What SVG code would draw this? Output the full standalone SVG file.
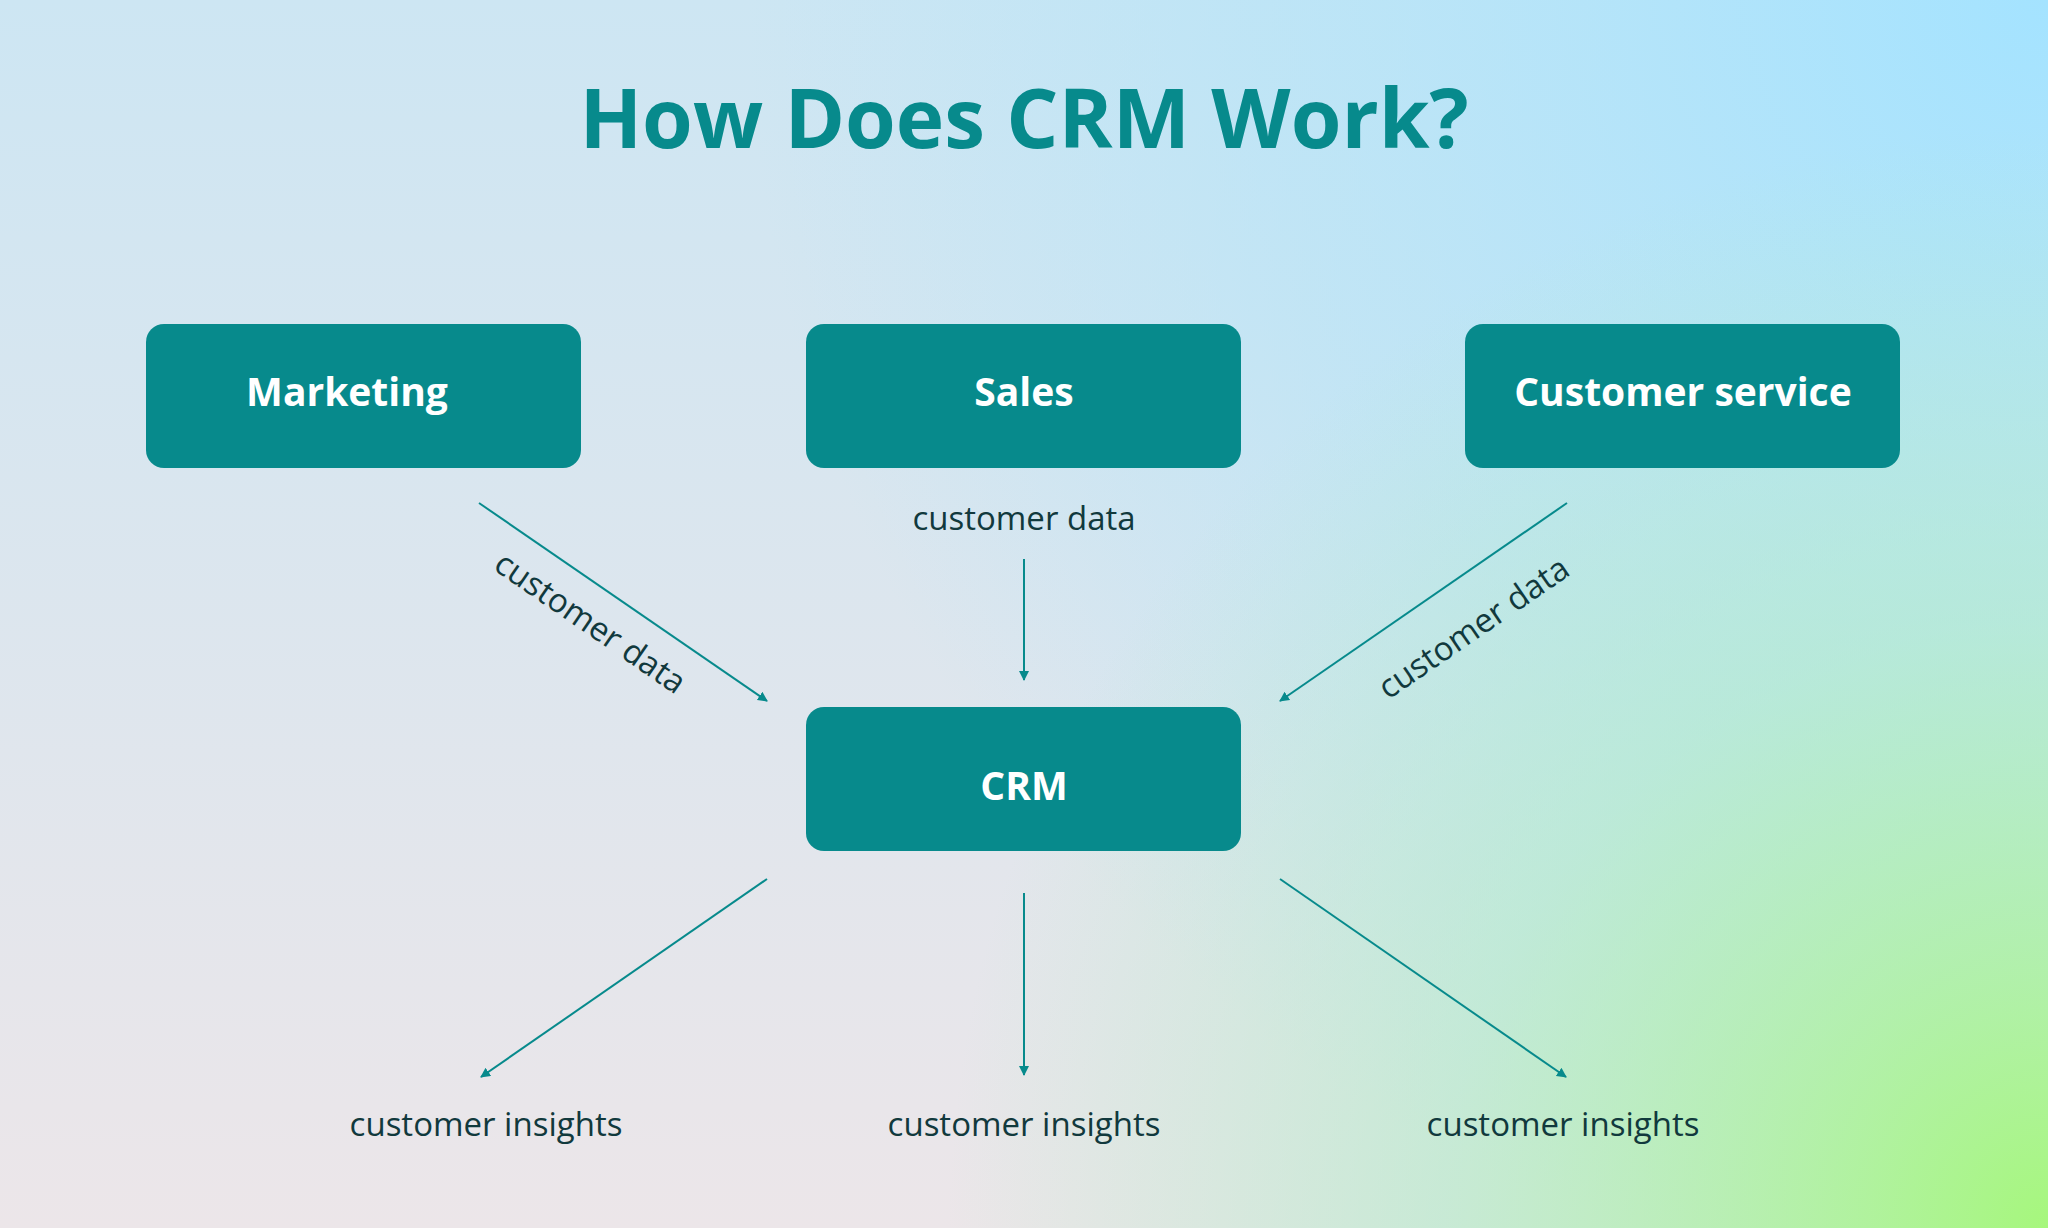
<svg xmlns="http://www.w3.org/2000/svg" width="2048" height="1228" viewBox="0 0 2048 1228">
<defs>
<linearGradient id="bg" x1="0" y1="0" x2="0" y2="1"><stop offset="0" stop-color="#cde6f3"/><stop offset="1" stop-color="#ece6e9"/></linearGradient>
<radialGradient id="blue" cx="2048" cy="0" r="1300" gradientUnits="userSpaceOnUse"><stop offset="0" stop-color="#a4e3ff"/><stop offset="0.6" stop-color="#b4e4f8" stop-opacity="0.6"/><stop offset="1" stop-color="#b4e4f8" stop-opacity="0"/></radialGradient>
<radialGradient id="green" cx="2048" cy="1228" r="1100" gradientUnits="userSpaceOnUse"><stop offset="0" stop-color="#a6f77c"/><stop offset="0.55" stop-color="#b0ecc8" stop-opacity="0.6"/><stop offset="1" stop-color="#b0ecc8" stop-opacity="0"/></radialGradient>
<marker id="ah" viewBox="0 0 10 10" refX="9" refY="5" markerWidth="10" markerHeight="10" markerUnits="userSpaceOnUse" orient="auto"><path d="M0,0 L10,5 L0,10 z" fill="#078a8c"/></marker>
<style>
.box{fill:#078a8c}
.bt{font-family:"Open Sans","Noto Sans",sans-serif;font-weight:bold;font-size:39px;fill:#fff;text-anchor:middle}
.lb{font-family:"Open Sans","Noto Sans",sans-serif;font-size:33px;fill:#11393d;text-anchor:middle}
.cn line{stroke:#078a8c;stroke-width:2;marker-end:url(#ah)}
</style>
</defs>
<rect width="2048" height="1228" fill="url(#bg)"/>
<rect width="2048" height="1228" fill="url(#blue)"/>
<rect width="2048" height="1228" fill="url(#green)"/>
<text x="1024" y="148" font-family="'Open Sans','Noto Sans',sans-serif" font-weight="bold" font-size="82" fill="#078a8c" text-anchor="middle">How Does CRM Work?</text>
<g id="marketing"><rect class="box" x="146" y="324" width="435" height="144" rx="18"/><text class="bt" x="347" y="406">Marketing</text></g>
<g id="sales"><rect class="box" x="806" y="324" width="435" height="144" rx="18"/><text class="bt" x="1024" y="406">Sales</text></g>
<g id="service"><rect class="box" x="1465" y="324" width="435" height="144" rx="18"/><text class="bt" x="1683" y="406">Customer service</text></g>
<g id="crm"><rect class="box" x="806" y="707" width="435" height="144" rx="18"/><text class="bt" x="1024" y="800">CRM</text></g>
<g class="cn" id="connectors">
<line x1="479" y1="503" x2="767" y2="701"/>
<line x1="1024" y1="559" x2="1024" y2="680"/>
<line x1="1567" y1="503" x2="1280" y2="701"/>
<line x1="767" y1="879" x2="481" y2="1077"/>
<line x1="1024" y1="893" x2="1024" y2="1075"/>
<line x1="1280" y1="879" x2="1566" y2="1077"/>
</g>
<g id="labels">
<text class="lb" x="1024" y="530">customer data</text>
<text class="lb" transform="translate(584,632) rotate(34.5)">customer data</text>
<text class="lb" transform="translate(1480,637) rotate(-34.5)">customer data</text>
<text class="lb" x="486" y="1136">customer insights</text>
<text class="lb" x="1024" y="1136">customer insights</text>
<text class="lb" x="1563" y="1136">customer insights</text>
</g>
</svg>
